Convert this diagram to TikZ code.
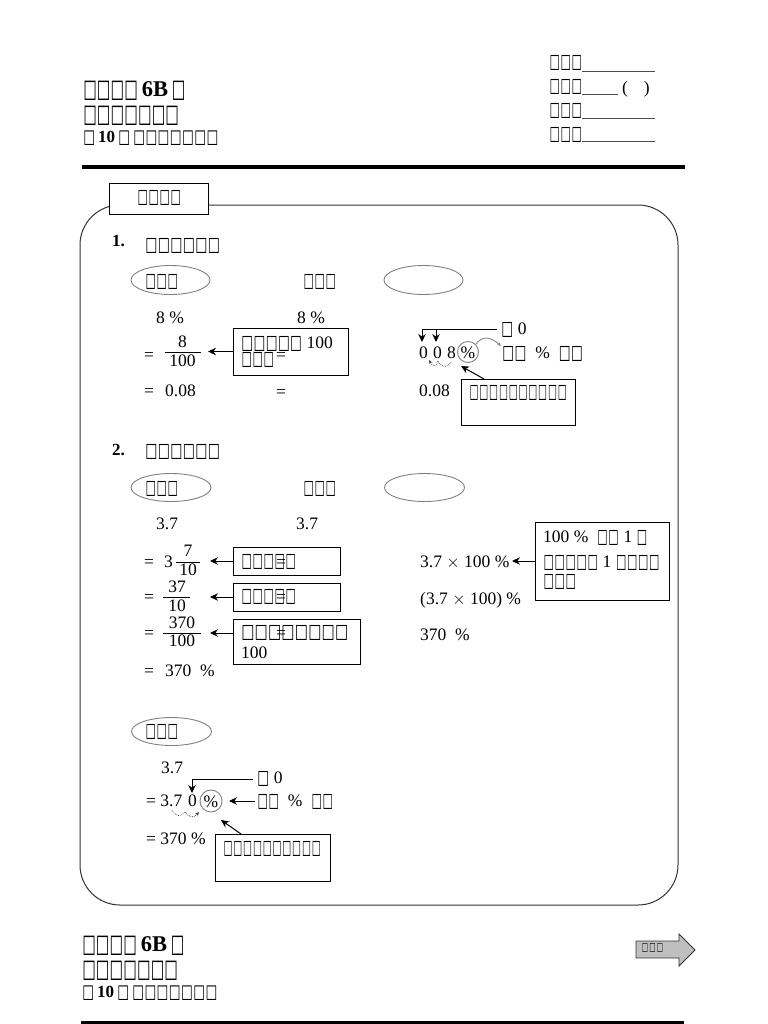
\documentclass[tikz,border=0pt]{standalone}
\usepackage{fontspec}
\setmainfont{Liberation Serif}
\newfontfamily\tofu{DejaVu Sans}
\usetikzlibrary{arrows.meta}
\newcommand\T[2][12.2bp]{\foreach \tfi in {1,...,#2}{\makebox[#1][c]{\raisebox{-0.2em}{\resizebox{\dimexpr 1.18\dimexpr#1\relax-2.6bp\relax}{0.86em}{\tofu ☐}}}}}
\tikzset{
  x=1bp,y=-1bp,
  txt/.style={anchor=base west,inner sep=0pt,font=\fontsize{17.5bp}{19bp}\selectfont},
  ctr/.style={anchor=base,inner sep=0pt,font=\fontsize{17.5bp}{19bp}\selectfont},
  ttl/.style={anchor=base west,inner sep=0pt,font=\fontsize{22.5bp}{24bp}\selectfont\bfseries},
  sbt/.style={anchor=base west,inner sep=0pt,font=\fontsize{17bp}{19bp}\selectfont\bfseries},
  boxb/.style={draw=black,line width=0.9bp,inner sep=0pt},
  oval/.style={draw=black!50,line width=0.9bp,ellipse,inner sep=0pt},
  arr/.style={draw=black,line width=1bp,-{Stealth[length=8bp,width=7.5bp]}},
  bar/.style={draw=black,line width=0.9bp},
  dots/.style={draw=black!75,line width=0.7bp,densely dotted,-{Stealth[length=4bp,width=3.5bp]}},
}
\usetikzlibrary{shapes.geometric}
\begin{document}
\begin{tikzpicture}
\useasboundingbox (0,0) rectangle (768,1024);
% header
\node[ttl] (h1) at (83,96) {\T[13.7bp]{4}\,6B\,\T[13.7bp]{1}};
\node[ttl] (h2) at (83,121) {\T[13.7bp]{7}};
\node[sbt] (h3) at (83,142) {\T{1}\,10\,\T{1}\,\T{7}};
\node[txt] (n1) at (549,67) {\T[11bp]{3}};
\node[txt] (n2) at (549,91) {\T[11bp]{3}};
\node[txt] (n2b) at (622,93) {(\hspace{0.9em})};
\node[txt] (n3) at (549,115) {\T[11bp]{3}};
\node[txt] (n4) at (549,139) {\T[11bp]{3}};
\draw[black!70,line width=0.9bp] (582,71) -- (655,71) (582,94) -- (618,94) (582,118) -- (655,118) (582,141) -- (655,141);
\draw[black,line width=4.5bp] (82,167) -- (685,167);
% frame
\draw[black!80,line width=1bp,rounded corners=40bp] (80,205) rectangle (678,905);
\node[boxb,fill=white,minimum width=99bp,minimum height=31bp] (tag) at (158.5,198.5) {};
\node[txt] (tagt) at (137,202) {\T[11bp]{4}};
% section 1
\node[sbt] (q1) at (112,246) {1.};
\node[txt] (q1t) at (145,250) {\T[12.5bp]{6}};
\node[oval,minimum width=79bp,minimum height=29bp] (e1) at (170.5,280) {};
\node[oval,minimum width=79bp,minimum height=29bp] (e2) at (423.5,280) {};
\node[txt] (m1) at (145,286) {\T[11bp]{3}};
\node[txt] (m2) at (303,286) {\T[11bp]{3}};
\node[txt] (a1) at (156,323) {8 \%};
\node[txt] (a2) at (297,323) {8 \%};
\node[txt] (eq1) at (144,360) {=};
\node[ctr] (f1n) at (182.5,347) {8};
\node[ctr] (f1d) at (182.5,366) {100};
\draw[bar] (165,352) -- (201,352);
\node[boxb,minimum width=115bp,minimum height=47bp] (b1) at (290.5,351.5) {};
\coordinate (b1e) at (208,351.5);
\draw[arr] (b1.west) -- (b1e);
\node[txt] (b1t) at (241,348) {\T{5}\ 100};
\node[txt] (b1u) at (241,364) {\T[11bp]{3}};
\node[txt] (eq2) at (276,360) {=};
\node[txt] (eq3) at (144,396) {=};
\node[txt] (r1) at (165,396) {0.08};
\node[txt] (eq4) at (276,397) {=};
\node[txt] (s1) at (501,334) {\T{1}\ 0};
\node[txt] (z1) at (419,358) {0};
\node[txt] (z2) at (433,358) {0};
\node[txt] (z3) at (447,358) {8};
\node[txt,anchor=center] (pc1) at (468,352.5) {\%};
\node[draw=black!50,line width=0.9bp,circle,minimum size=21bp,inner sep=0pt] (c1) at (468,352) {};
\node[txt] (p1) at (502,358) {\T{2}\ \ \%\ \ \T{2}};
\coordinate (s1j) at (422,329);
\coordinate (s1k) at (436,329);
\coordinate (z1t) at (422,342);
\coordinate (z2t) at (436,342);
\draw[bar] (s1.west |- s1j) ++(-4,0) -- (s1j);
\draw[arr] (s1j) -- (z1t);
\draw[arr] (s1k) -- (z2t);
\coordinate (p1t) at (501,346);
\draw[draw=black!45,line width=0.9bp,-{Stealth[length=4bp,width=3.5bp]}] (c1.north east) .. controls (482,336) and (490,336) .. (p1t);
\coordinate (d1a) at (451,362);
\coordinate (d1b) at (438,361);
\coordinate (d1c) at (429,360);
\draw[dots] (d1a) .. controls (447,368) and (442,368) .. (d1b) .. controls (436,367) and (433,367) .. (d1c);
\node[txt] (r2) at (419,396) {0.08};
\node[boxb,minimum width=114bp,minimum height=46bp] (b2) at (518,402) {};
\node[txt] (b2t) at (469,397) {\T[9.8bp]{10}};
\coordinate (b2s) at (484,379);
\coordinate (b2e) at (461,366);
\draw[arr] (b2s) -- (b2e);
% section 2
\node[sbt] (q2) at (112,455) {2.};
\node[txt] (q2t) at (145,456) {\T[12.5bp]{6}};
\node[oval,minimum width=80bp,minimum height=28bp] (e3) at (171,487.5) {};
\node[oval,minimum width=80bp,minimum height=28bp] (e4) at (424.5,487.5) {};
\node[txt] (m3) at (145,493) {\T[11bp]{3}};
\node[txt] (m4) at (303,493) {\T[11bp]{3}};
\node[txt] (a3) at (156,529) {3.7};
\node[txt] (a4) at (296,529) {3.7};
\node[txt] (eq5) at (144,567) {=};
\node[txt] (t3) at (164,567) {3};
\node[ctr] (f2n) at (188,556) {7};
\node[ctr] (f2d) at (188,575) {10};
\draw[bar] (176,562) -- (200,562);
\node[boxb,minimum width=107bp,minimum height=28bp] (b3) at (286.5,561) {};
\coordinate (b3e) at (210,561);
\draw[arr] (b3.west) -- (b3e);
\node[txt] (b3t) at (241,566) {\T[11bp]{5}};
\node[txt] (eq6) at (276,567) {=};
\node[txt] (eq7) at (144,602) {=};
\node[ctr] (f3n) at (177,592) {37};
\node[ctr] (f3d) at (177,611) {10};
\draw[bar] (163,597) -- (190,597);
\node[boxb,minimum width=107bp,minimum height=28bp] (b4) at (286.5,597) {};
\coordinate (b4e) at (210,597);
\draw[arr] (b4.west) -- (b4e);
\node[txt] (b4t) at (241,601) {\T[11bp]{5}};
\node[txt] (eq8) at (276,602) {=};
\node[txt] (eq9) at (144,638) {=};
\node[ctr] (f4n) at (182,628) {370};
\node[ctr] (f4d) at (182,646) {100};
\draw[bar] (163,633) -- (201,633);
\node[boxb,minimum width=127bp,minimum height=45bp] (b5) at (296.5,641.5) {};
\coordinate (b5e) at (210,633);
\draw[arr] (b5.west |- b5e) -- (b5e);
\node[txt] (b5t) at (241,637) {\T[13.4bp]{8}};
\node[txt] (b5u) at (241,658) {100};
\node[txt] (eq10) at (276,638) {=};
\node[txt] (eq11) at (144,676) {=};
\node[txt] (r3) at (165,676) {370\ \ \%};
\node[txt] (w1) at (420,567) {3.7 $\times$ 100 \%};
\node[txt] (w2) at (420,604) {(3.7 $\times$ 100) \%};
\node[txt] (w3) at (420,640) {370\ \ \%};
\node[boxb,minimum width=134bp,minimum height=78bp] (b6) at (602,561) {};
\coordinate (b6e) at (512,561);
\draw[arr] (b6.west) -- (b6e);
\node[txt] (b6t) at (543,542) {100 \%\ \ \T[11bp]{2} 1 \T[11bp]{1}};
\node[txt] (b6u) at (543,567) {\T[11bp]{5} 1 \T[11bp]{4}};
\node[txt] (b6v) at (543,586) {\T[11bp]{3}};
% method 2
\node[oval,minimum width=80bp,minimum height=28bp] (e5) at (171.5,731.5) {};
\node[txt] (m5) at (145,736) {\T[11bp]{3}};
\node[txt] (a5) at (161,773) {3.7};
\node[txt] (s2) at (257,783) {\T{1}\ 0};
\node[txt] (v1) at (146,806) {= 3.7};
\node[txt] (v2) at (188,806) {0};
\node[txt,anchor=center] (pc2) at (211,801.5) {\%};
\node[draw=black!50,line width=0.9bp,circle,minimum size=22bp,inner sep=0pt] (c2) at (211,801) {};
\node[txt] (p2) at (257,806) {\T[11bp]{2}\ \ \%\ \ \T[11bp]{2}};
\coordinate (s2j) at (192,779);
\coordinate (s2r) at (253,779);
\coordinate (v2t) at (192,793);
\draw[arr] (s2r) -- (s2j) -- (v2t);
\coordinate (p2l) at (255,801);
\coordinate (c2r) at (229,801);
\draw[arr] (p2l) -- (c2r);
\coordinate (d2a) at (172,810);
\coordinate (d2b) at (185,812);
\coordinate (d2c) at (199,812);
\draw[dots] (d2a) .. controls (175,817) and (182,817) .. (d2b) .. controls (189,817) and (193,819) .. (d2c);
\node[txt] (r4) at (146,844) {= 370 \%};
\node[boxb,minimum width=115bp,minimum height=47bp] (b7) at (272.5,857.5) {};
\node[txt] (b7t) at (223,853) {\T[9.8bp]{10}};
\coordinate (b7s) at (241,834);
\coordinate (b7e) at (221,820);
\draw[arr] (b7s) -- (b7e);
% footer
\node[ttl] (g1) at (82,951) {\T[13.7bp]{4}\,6B\,\T[13.7bp]{1}};
\node[ttl] (g2) at (82,976) {\T[13.7bp]{7}};
\node[sbt] (g3) at (82,997) {\T{1}\,10\,\T{1}\,\T{7}};
\draw[black,line width=4bp] (81,1022.5) -- (684,1022.5);
\draw[fill=black!25,draw=black!80,line width=0.9bp] (636,941) -- (679,941) -- (679,934) -- (695,950) -- (679,966) -- (679,958) -- (636,958) -- cycle;
\node[anchor=base west,inner sep=0pt,font=\fontsize{10.5bp}{12bp}\selectfont] (nx) at (641,950) {\T[7.5bp]{3}};
\end{tikzpicture}
\end{document}
